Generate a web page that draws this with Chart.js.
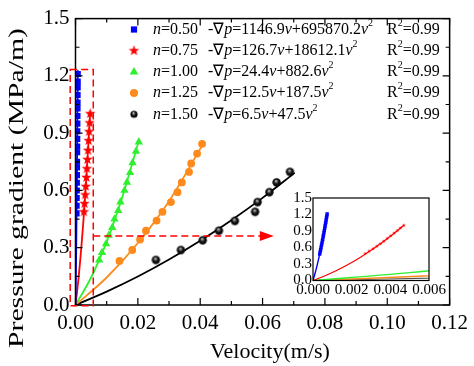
<!DOCTYPE html>
<html>
<head>
<meta charset="utf-8">
<script src="https://cdn.jsdelivr.net/npm/chart.js@4/dist/chart.umd.min.js"></script>
<style>
html, body { margin: 0; padding: 0; background: #fff; }
#wrap { position: relative; width: 474px; height: 366px; }
#main { position: absolute; left: 0; top: 0; }
#inset { position: absolute; left: 282px; top: 188px; }
</style>
</head>
<body>
<div id="wrap">
<canvas id="main" width="474" height="366"></canvas>
<canvas id="inset" width="170" height="112"></canvas>
</div>
<script>
// axis ticks
const xTicks = [0, 0.02, 0.04, 0.06, 0.08, 0.10, 0.12]
const yTicks = [0, 0.3, 0.6, 0.9, 1.2, 1.5]
const insetXTicks = [0, 0.002, 0.004, 0.006]

// legend text
const n_values = ['0.50', '0.75', '1.00', '1.25', '1.50']
const coef_a = ['1146.9', '126.7', '24.4', '12.5', '6.5']
const coef_b = ['695870.2', '18612.1', '882.6', '187.5', '47.5']
const r_squared = ['0.99', '0.99', '0.99', '0.99', '0.99']

// measured points (v in m/s, pressure gradient in MPa/m)
const blue_v = [0.000346, 0.000370, 0.000394, 0.000417, 0.000440, 0.000463, 0.000485, 0.000501, 0.000528, 0.000544,
                0.000565, 0.000585, 0.000606, 0.000626, 0.000645, 0.000660, 0.000679, 0.000698, 0.000712, 0.000731]
const blue_p = [0.48, 0.52, 0.56, 0.60, 0.64, 0.68, 0.72, 0.75, 0.80, 0.83, 0.87, 0.91, 0.95, 0.99, 1.03, 1.06, 1.10, 1.14, 1.17, 1.21]
const red_v = [0.00270, 0.00290, 0.00311, 0.00330, 0.00349, 0.00366, 0.00384, 0.00402, 0.00420, 0.00437, 0.00452, 0.00470]
const red_p = [0.488, 0.531, 0.577, 0.621, 0.668, 0.714, 0.762, 0.810, 0.861, 0.908, 0.954, 1.002]
const green_v = [0.0076, 0.0085, 0.0098, 0.0107, 0.0118, 0.0125, 0.0137, 0.0144, 0.0157, 0.0165, 0.0175, 0.0183, 0.0194, 0.0203]
const green_p = [0.235, 0.275, 0.320, 0.365, 0.405, 0.450, 0.495, 0.539, 0.600, 0.642, 0.693, 0.745, 0.805, 0.853]
const orange_v = [0.0141, 0.0182, 0.0207, 0.0226, 0.0260, 0.0279, 0.0306, 0.0327, 0.0341, 0.0364, 0.0371, 0.0390, 0.0406]
const orange_p = [0.231, 0.288, 0.343, 0.389, 0.442, 0.488, 0.539, 0.591, 0.642, 0.697, 0.741, 0.793, 0.844]
const black_v = [0.0258, 0.0338, 0.0408, 0.0460, 0.0511, 0.0576, 0.0584, 0.0622, 0.0645, 0.0688]
const black_p = [0.236, 0.288, 0.339, 0.389, 0.440, 0.488, 0.539, 0.591, 0.642, 0.697]

// fitted curves
const blueFit_v = [0, 0.0001, 0.0002, 0.0003, 0.0004, 0.0005, 0.0006, 0.0007, 0.00074]
const blueFit_p = [0, 0.122, 0.257, 0.407, 0.570, 0.747, 0.939, 1.144, 1.230]
const redFit_v = [0, 0.0005, 0.001, 0.0015, 0.002, 0.0025, 0.003, 0.0035, 0.004, 0.0045, 0.0047]
const redFit_p = [0, 0.068, 0.145, 0.232, 0.328, 0.433, 0.548, 0.671, 0.805, 0.947, 1.007]
const greenFit_v = [0, 0.005, 0.01, 0.015, 0.0205]
const greenFit_p = [0, 0.144, 0.332, 0.565, 0.871]
const orangeFit_v = [0, 0.01, 0.02, 0.03, 0.0408]
const orangeFit_p = [0, 0.144, 0.325, 0.544, 0.840]
const blackFit_v = [0, 0.01, 0.02, 0.03, 0.04, 0.05, 0.06, 0.0703]
const blackFit_p = [0, 0.070, 0.149, 0.238, 0.336, 0.444, 0.561, 0.692]

const BLUE = '#0000ff', RED = '#ff0000', GREEN = '#2ef02e', ORANGE = '#ff8a1c', BLACK = '#000000'
const FONT = '"Liberation Serif", "Times New Roman", serif'

const pts = (xs, ys) => xs.map((x, i) => ({ x: x, y: ys[i] }))

function makeStar(r, color) {
    const c = document.createElement('canvas')
    c.width = c.height = Math.ceil(2 * r + 2)
    const g = c.getContext('2d')
    g.fillStyle = color
    g.beginPath()
    for (let i = 0; i < 10; i++) {
        const a = -Math.PI / 2 + i * Math.PI / 5
        const rr = i % 2 ? r * 0.42 : r
        g.lineTo(c.width / 2 + rr * Math.cos(a), c.height / 2 + rr * Math.sin(a))
    }
    g.closePath()
    g.fill()
    return c
}

function makeBall(r) {
    const c = document.createElement('canvas')
    c.width = c.height = Math.ceil(2 * r + 2)
    const g = c.getContext('2d')
    const cx = c.width / 2, cy = c.height / 2
    const grad = g.createRadialGradient(cx - r * 0.15, cy - r * 0.4, 0, cx, cy, r)
    grad.addColorStop(0, '#f4f4f4')
    grad.addColorStop(0.25, '#777')
    grad.addColorStop(0.55, '#151515')
    grad.addColorStop(1, '#000')
    g.fillStyle = grad
    g.beginPath()
    g.arc(cx, cy, r, 0, Math.PI * 2)
    g.fill()
    return c
}

const starBig = makeStar(5.5, RED), starSmall = makeStar(2, RED)
const ballBig = makeBall(4.2), ballLegend = makeBall(3.6)

function fitLine(xs, ys, color, width) {
    return {
        type: 'line', data: pts(xs, ys), borderColor: color, borderWidth: width,
        pointRadius: 0, fill: false, cubicInterpolationMode: 'monotone', order: 2
    }
}
function marks(xs, ys, color, style, radius) {
    return {
        type: 'scatter', data: pts(xs, ys), backgroundColor: color, borderColor: color,
        pointStyle: style, pointRadius: radius, pointBorderWidth: 0, order: 1
    }
}

// ---------- main chart decorations ----------
const zoomBox = { v0: -0.0017, v1: 0.0057, p0: -0.004, p1: 1.233 }
const arrow = { v0: 0.0057, v1: 0.0636, p: 0.362 }

function richText(ctx, parts, x, y, size) {
    for (const s of parts) {
        let f = size, dy = 0
        if (s.sup) { f = Math.round(size * 0.6); dy = -size * 0.4 }
        ctx.font = (s.i ? 'italic ' : '') + f + 'px ' + FONT
        ctx.fillText(s.t, x, y + dy)
        x += ctx.measureText(s.t).width
    }
}

const mainDeco = {
    id: 'mainDeco',
    afterDraw(chart) {
        const ctx = chart.ctx, a = chart.chartArea
        const xs = chart.scales.x, ys = chart.scales.y
        ctx.save()
        // frame
        ctx.strokeStyle = '#000'
        ctx.lineWidth = 1.5
        ctx.strokeRect(a.left, a.top, a.right - a.left, a.bottom - a.top)
        // inward ticks on all four sides
        ctx.lineWidth = 1.2
        ctx.beginPath()
        for (let i = 0; i < xTicks.length; i++) {
            const px = xs.getPixelForValue(xTicks[i])
            ctx.moveTo(px, a.bottom); ctx.lineTo(px, a.bottom - 7)
            ctx.moveTo(px, a.top); ctx.lineTo(px, a.top + 7)
            if (i < xTicks.length - 1) {
                const mx = xs.getPixelForValue((xTicks[i] + xTicks[i + 1]) / 2)
                ctx.moveTo(mx, a.bottom); ctx.lineTo(mx, a.bottom - 4)
                ctx.moveTo(mx, a.top); ctx.lineTo(mx, a.top + 4)
            }
        }
        for (let i = 0; i < yTicks.length; i++) {
            const py = ys.getPixelForValue(yTicks[i])
            ctx.moveTo(a.left, py); ctx.lineTo(a.left + 7, py)
            ctx.moveTo(a.right, py); ctx.lineTo(a.right - 7, py)
            if (i < yTicks.length - 1) {
                const my = ys.getPixelForValue((yTicks[i] + yTicks[i + 1]) / 2)
                ctx.moveTo(a.left, my); ctx.lineTo(a.left + 4, my)
                ctx.moveTo(a.right, my); ctx.lineTo(a.right - 4, my)
            }
        }
        ctx.stroke()

        // red dashed box and arrow pointing to the inset
        ctx.strokeStyle = RED
        ctx.fillStyle = RED
        ctx.lineWidth = 1.5
        ctx.setLineDash([7, 4])
        const bx0 = xs.getPixelForValue(zoomBox.v0), bx1 = xs.getPixelForValue(zoomBox.v1)
        const by0 = ys.getPixelForValue(zoomBox.p0), by1 = ys.getPixelForValue(zoomBox.p1)
        ctx.strokeRect(bx0, by1, bx1 - bx0, by0 - by1)
        const ay = ys.getPixelForValue(arrow.p)
        const ax0 = xs.getPixelForValue(arrow.v0), ax1 = xs.getPixelForValue(arrow.v1)
        ctx.beginPath()
        ctx.moveTo(ax0, ay); ctx.lineTo(ax1 - 12, ay)
        ctx.stroke()
        ctx.setLineDash([])
        ctx.beginPath()
        ctx.moveTo(ax1, ay); ctx.lineTo(ax1 - 14, ay - 5); ctx.lineTo(ax1 - 14, ay + 5)
        ctx.closePath()
        ctx.fill()

        // legend
        const rowY = [29.5, 50.7, 71.9, 93.1, 114.3]
        const styles = [
            { pointStyle: 'rect', radius: 4.4, color: BLUE },
            { pointStyle: starBig, radius: 5, color: RED },
            { pointStyle: 'triangle', radius: 5, color: GREEN },
            { pointStyle: 'circle', radius: 4, color: ORANGE },
            { pointStyle: ballLegend, radius: 3.6, color: BLACK }
        ]
        ctx.fillStyle = '#000'
        ctx.textBaseline = 'middle'
        ctx.textAlign = 'left'
        for (let i = 0; i < n_values.length; i++) {
            const y = rowY[i]
            ctx.fillStyle = styles[i].color
            ctx.strokeStyle = styles[i].color
            Chart.helpers.drawPoint(ctx, { pointStyle: styles[i].pointStyle, radius: styles[i].radius, rotation: 0, borderWidth: 0 }, 134, y)
            ctx.fillStyle = '#000'
            richText(ctx, [{ t: 'n', i: true }, { t: '=' + n_values[i] }], 153, y, 16)
            richText(ctx, [{ t: '-\u2207' }, { t: 'p', i: true }, { t: '=' + coef_a[i] }, { t: 'v', i: true },
                           { t: '+' + coef_b[i] }, { t: 'v', i: true }, { t: '2', sup: true }], 208, y, 16)
            richText(ctx, [{ t: 'R' }, { t: '2', sup: true }, { t: '=' + r_squared[i] }], 387, y, 16)
        }

        // axis titles
        ctx.fillStyle = '#000'
        ctx.textAlign = 'center'
        ctx.textBaseline = 'middle'
        ctx.font = '22px ' + FONT
        ctx.fillText('Velocity(m/s)', 270, 352)
        ctx.save()
        ctx.translate(17, 188)
        ctx.rotate(-Math.PI / 2)
        const yTitle = 'Pressure gradient (MPa/m)'
        ctx.font = '22px ' + FONT
        const w = ctx.measureText(yTitle).width
        ctx.scale(320 / w, 1)
        ctx.fillText(yTitle, 0, 0)
        ctx.restore()
        ctx.restore()
    }
}

new Chart(document.getElementById('main').getContext('2d'), {
    type: 'scatter',
    data: {
        datasets: [
            fitLine(blueFit_v, blueFit_p, BLUE, 1.8),
            fitLine(redFit_v, redFit_p, RED, 1.8),
            fitLine(greenFit_v, greenFit_p, GREEN, 1.8),
            fitLine(orangeFit_v, orangeFit_p, ORANGE, 1.8),
            fitLine(blackFit_v, blackFit_p, BLACK, 1.8),
            marks(blue_v, blue_p, BLUE, 'rect', 4.3),
            marks(red_v, red_p, RED, starBig, 5),
            marks(green_v, green_p, GREEN, 'triangle', 4.8),
            marks(orange_v, orange_p, ORANGE, 'circle', 3.9),
            marks(black_v, black_p, BLACK, ballBig, 4)
        ]
    },
    options: {
        responsive: false,
        animation: false,
        layout: { padding: { top: 13, right: 22, left: 0, bottom: 0 } },
        plugins: { legend: { display: false }, tooltip: { enabled: false } },
        scales: {
            x: {
                type: 'linear', min: 0, max: 0.12,
                afterFit: s => { s.height = 61 },
                afterBuildTicks: s => { s.ticks = xTicks.map(v => ({ value: v })) },
                grid: { display: false, drawTicks: false },
                border: { display: false },
                ticks: { padding: 6, color: '#000', autoSkip: false, maxRotation: 0,
                         font: { family: FONT, size: 21 }, callback: v => v.toFixed(2) }
            },
            y: {
                type: 'linear', min: 0, max: 1.5,
                afterFit: s => { s.width = 75.5 },
                afterBuildTicks: s => { s.ticks = yTicks.map(v => ({ value: v })) },
                grid: { display: false, drawTicks: false },
                border: { display: false },
                ticks: { padding: 6, color: '#000', autoSkip: false,
                         font: { family: FONT, size: 21 }, callback: v => v.toFixed(1) }
            }
        }
    },
    plugins: [mainDeco]
})

// ---------- inset ----------
const insetDeco = {
    id: 'insetDeco',
    beforeDatasetsDraw(chart) {
        const ctx = chart.ctx, a = chart.chartArea
        ctx.save()
        ctx.fillStyle = '#fff'
        ctx.fillRect(a.left, a.top, a.right - a.left, a.bottom - a.top)
        ctx.restore()
    },
    afterDraw(chart) {
        const ctx = chart.ctx, a = chart.chartArea
        ctx.save()
        ctx.strokeStyle = '#000'
        ctx.lineWidth = 1.2
        ctx.strokeRect(a.left, a.top, a.right - a.left, a.bottom - a.top)
        ctx.restore()
    }
}

new Chart(document.getElementById('inset').getContext('2d'), {
    type: 'scatter',
    data: {
        datasets: [
            fitLine(blueFit_v, blueFit_p, BLUE, 1.4),
            fitLine(redFit_v, redFit_p, RED, 1.2),
            fitLine(greenFit_v, greenFit_p, GREEN, 1.4),
            fitLine(orangeFit_v, orangeFit_p, ORANGE, 1.4),
            fitLine(blackFit_v, blackFit_p, '#555', 1.2),
            marks(blue_v, blue_p, BLUE, 'rect', 2.4),
            marks(red_v, red_p, RED, starSmall, 2)
        ]
    },
    options: {
        responsive: false,
        animation: false,
        layout: { padding: { top: 8, right: 23, left: 0, bottom: 0 } },
        plugins: { legend: { display: false }, tooltip: { enabled: false } },
        scales: {
            x: {
                type: 'linear', min: 0, max: 0.006,
                afterFit: s => { s.height = 19.5 },
                afterBuildTicks: s => { s.ticks = insetXTicks.map(v => ({ value: v })) },
                grid: { display: false, drawTicks: false },
                border: { display: false },
                ticks: { padding: 1, color: '#000', autoSkip: false, maxRotation: 0,
                         font: { family: FONT, size: 15 }, callback: v => v.toFixed(3) }
            },
            y: {
                type: 'linear', min: 0, max: 1.5,
                afterFit: s => { s.width = 31 },
                afterBuildTicks: s => { s.ticks = yTicks.map(v => ({ value: v })) },
                grid: { display: false, drawTicks: false },
                border: { display: false },
                ticks: { padding: 1, color: '#000', autoSkip: false,
                         font: { family: FONT, size: 15 }, callback: v => v.toFixed(1) }
            }
        }
    },
    plugins: [insetDeco]
})
</script>
</body>
</html>
